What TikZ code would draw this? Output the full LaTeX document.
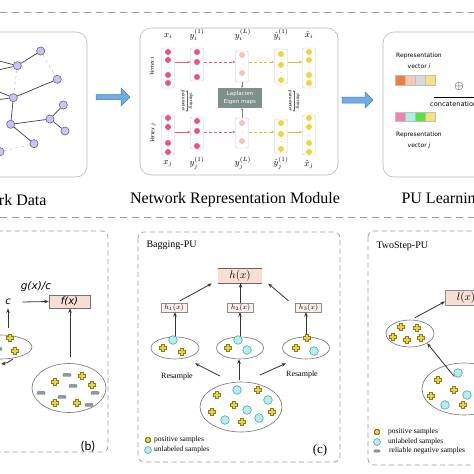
\documentclass[tikz,border=0pt]{standalone}
\usepackage{fontspec}
\setmainfont{Liberation Serif}
\setsansfont{DejaVu Sans}
\newfontfamily\calib{Carlito}
\usetikzlibrary{arrows.meta,shapes.geometric,calc}
\definecolor{netfill}{HTML}{C8C5EE}
\definecolor{netdraw}{HTML}{6B68A0}
\definecolor{dashgray}{HTML}{9A9A9A}
\definecolor{boxgray}{HTML}{B8B8B8}
\definecolor{pinkdot}{HTML}{E8538C}
\definecolor{peachdot}{HTML}{F6C6B4}
\definecolor{yellowdot}{HTML}{F4D23A}
\definecolor{lapgray}{HTML}{7E908C}
\definecolor{arrowblue}{HTML}{72ACE6}
\definecolor{arrowblueD}{HTML}{3F7CC0}
\definecolor{peachbox}{HTML}{F9DED3}
\definecolor{plusfill}{HTML}{EAD446}
\definecolor{plusedge}{HTML}{8C7C1E}
\definecolor{minusfill}{HTML}{8E99A8}
\definecolor{minusedge}{HTML}{6A7480}
\definecolor{cyanfill}{HTML}{B7EEEC}
\definecolor{cyanedge}{HTML}{4AA4AE}
\definecolor{ca}{HTML}{F07F3A}
\definecolor{cb}{HTML}{F7C9B5}
\definecolor{cc}{HTML}{D7D9DA}
\definecolor{cd}{HTML}{F5E17D}
\definecolor{ce}{HTML}{F37FB4}
\definecolor{cf}{HTML}{A6F2E3}
\definecolor{cg}{HTML}{55E43A}
\tikzset{
  panel/.style={draw=dashgray, dash pattern=on 5pt off 3.5pt, line width=0.7pt, rounded corners=6pt},
  sepline/.style={draw=dashgray, dash pattern=on 7pt off 5pt, line width=0.7pt},
  bigbox/.style={draw=boxgray, line width=0.6pt, rounded corners=11pt},
  nn/.style={circle, inner sep=0pt, minimum size=8pt, fill=netfill, draw=netdraw, line width=0.5pt},
  solidedge/.style={draw=black!75, line width=0.7pt},
  dashedge/.style={draw=black!25, dashed, line width=0.5pt},
  colbox/.style={draw=black!22, line width=0.4pt, rounded corners=2pt, minimum width=13pt, inner sep=0pt},
  arr/.style={-{Stealth[length=4.5pt,width=3.5pt]}, draw=black!80, line width=0.8pt},
  smallarr/.style={-{Stealth[length=2pt,width=2pt]}, draw=black!50, line width=0.4pt},
  pinkarr/.style={-{Stealth[length=3pt,width=2.5pt]}, draw=pinkdot, line width=0.6pt},
  yelarr/.style={-{Stealth[length=3pt,width=2.5pt]}, draw=yellowdot!90!black, line width=0.6pt},
  ell/.style={ellipse, draw=black!55, line width=0.6pt, inner sep=0pt},
  fbox/.style={fill=peachbox, draw=black!55, line width=0.6pt, inner sep=0pt},
  bigtitle/.style={font=\fontsize{16}{18}\selectfont},
  pplus/.pic={\draw[line width=3.3pt, plusedge] (-3.6,0)--(3.6,0) (0,-3.6)--(0,3.6);
              \draw[line width=1.9pt, plusfill] (-3,0)--(3,0) (0,-3)--(0,3);},
  pminus/.pic={\filldraw[fill=minusfill, draw=minusedge, line width=0.3pt, rounded corners=0.8pt] (-4,-1.4) rectangle (4,1.4);},
  pcirc/.pic={\draw[fill=cyanfill, draw=cyanedge, line width=0.6pt] (0,0) circle (4.3);},
}
\begin{document}
\begin{tikzpicture}[x=1pt,y=-1pt]
\useasboundingbox (0,0) rectangle (474,474);
\clip (0,0) rectangle (474,474);
\fill[white] (0,0) rectangle (474,474);

% separators
\draw[sepline] (0,12) -- (474,12);
\draw[sepline] (0,217) -- (474,217);

% ---------------- Network data
\draw[bigbox] (-30,32) rectangle (87,177);
\node[nn] (n1) at (40.7,51) {};
\node[nn] (n2) at (17.3,65.7) {};
\node[nn] (n3) at (57.3,79.3) {};
\node[nn] (n4) at (13.3,97.7) {};
\node[nn] (n5) at (63.3,105) {};
\node[nn] (n6) at (50,119) {};
\node[nn] (n7) at (65,131) {};
\node[nn] (n8) at (10.7,124.3) {};
\node[nn] (n9) at (34,143.7) {};
\node[nn] (n10) at (0,151.7) {};
\node[nn] (m1) at (-20,56) {};
\node[nn] (m2) at (-20,74) {};
\node[nn] (m3) at (-20,84) {};
\node[nn] (m4) at (-20,102) {};
\draw[solidedge] (n1) -- (n2);
\draw[solidedge] (m1) -- (n2);
\draw[solidedge] (m2) -- (n2);
\draw[solidedge] (m3) -- (n4);
\draw[solidedge] (m4) -- (n4);
\draw[dashedge] (n1) -- (n3);
\draw[dashedge] (n2) -- (n4);
\draw[solidedge] (n4) -- (n3);
\draw[solidedge] (n4) -- (n8);
\draw[solidedge] (n8) -- (n6);
\draw[solidedge] (n6) -- (n5);
\draw[solidedge] (n6) -- (n7);
\draw[solidedge] (n8) -- (n9);
\draw[dashedge] (n9) -- (n10);
\foreach \n in {n1,n2,n3,n4,n5,n6,n7,n8,n9,n10} \node[nn] at (\n) {};
\node[bigtitle, anchor=east] (tnet) at (50,200) {Network Data};

% blue arrows
\filldraw[fill=arrowblue, draw=arrowblueD, line width=0.5pt]
  (96,94.5) -- (121,94.5) -- (121,88) -- (130,97) -- (121,106) -- (121,99.5) -- (96,99.5) -- cycle;
\filldraw[fill=arrowblue, draw=arrowblueD, line width=0.5pt]
  (342,97) -- (365,97) -- (365,92) -- (373,100) -- (365,108) -- (365,103) -- (342,103) -- cycle;

% ---------------- Network Representation Module
\draw[bigbox] (140,28) rectangle (338,175);
\node[bigtitle] (tnrm) at (235,200) {Network Representation Module};

% top row columns
\node[colbox, minimum height=40pt] (cxi) at (168,68) {};
\node[colbox, minimum height=33pt] (cy1i) at (197,64.5) {};
\node[colbox, minimum height=31pt] (cyLi) at (242,66.5) {};
\node[colbox, minimum height=35pt] (cyhi) at (281,66.5) {};
\node[colbox, minimum height=40pt] (cxhi) at (309,68) {};
% bottom row columns
\node[colbox, minimum height=40pt] (cxj) at (168,135) {};
\node[colbox, minimum height=32pt] (cy1j) at (197,133) {};
\node[colbox, minimum height=30pt] (cyLj) at (242,133) {};
\node[colbox, minimum height=34pt] (cyhj) at (281,136) {};
\node[colbox, minimum height=40pt] (cxhj) at (309,135) {};
% dots
\foreach \y in {52,60,75,83} {\fill[pinkdot] (168,\y) circle (3); \fill[yellowdot] (309,\y) circle (3);}
\foreach \y in {52,62,77} \fill[pinkdot] (197,\y) circle (3);
\foreach \y in {55,73} \fill[peachdot] (242,\y) circle (3);
\foreach \y in {54,65,80} \fill[yellowdot] (281,\y) circle (3);
\foreach \y in {118,127,143,152} {\fill[pinkdot] (168,\y) circle (3); \fill[yellowdot] (309,\y) circle (3);}
\foreach \y in {121,131,146} \fill[pinkdot] (197,\y) circle (3);
\foreach \y in {123,141} \fill[peachdot] (242,\y) circle (3);
\foreach \y in {123,134,149} \fill[yellowdot] (281,\y) circle (3);
\foreach \x/\y in {168/67.5,309/67.5,197/69.5,242/64,281/72.5,168/135,309/135,197/138.5,242/132,281/141.5}
  \fill[black!35] (\x,\y) circle (0.5);

% labels
\begin{scope}[every node/.style={font=\fontsize{9}{10}\selectfont}]
\node (lxi) at (168,36) {$x_i$};
\node (ly1i) at (197,35) {$y_i^{(1)}$};
\node (lyLi) at (243,35) {$y_i^{(L)}$};
\node (lyhi) at (281,35) {$\hat{y}_i^{(1)}$};
\node (lxhi) at (309,35) {$\hat{x}_i$};
\node (lxj) at (168,164) {$x_j$};
\node (ly1j) at (197,163) {$y_j^{(1)}$};
\node (lyLj) at (243,163) {$y_j^{(L)}$};
\node (lyhj) at (281,163) {$\hat{y}_j^{(1)}$};
\node (lxhj) at (309,164) {$\hat{x}_j$};
\end{scope}
\node[rotate=90, font=\fontsize{6}{7}\selectfont\itshape] (vi) at (152,66) {Vertex $i$};
\node[rotate=90, font=\fontsize{6}{7}\selectfont\itshape] (vj) at (153,133) {Vertex $j$};

% arrows in rows
\draw[pinkarr] (cxi.east |- 0,62) -- (cy1i.west |- 0,62);
\draw[pinkarr, dash pattern=on 3pt off 2pt] (cy1i.east |- 0,62) -- (cyLi.west |- 0,62);
\draw[yelarr, dash pattern=on 3pt off 2pt] (cyLi.east |- 0,62) -- (cyhi.west |- 0,62);
\draw[yelarr] (cyhi.east |- 0,62) -- (cxhi.west |- 0,62);
\draw[pinkarr] (cxj.east |- 0,132) -- (cy1j.west |- 0,132);
\draw[pinkarr, dash pattern=on 3pt off 2pt] (cy1j.east |- 0,132) -- (cyLj.west |- 0,132);
\draw[yelarr, dash pattern=on 3pt off 2pt] (cyLj.east |- 0,132) -- (cyhj.west |- 0,132);
\draw[yelarr] (cyhj.east |- 0,132) -- (cxhj.west |- 0,132);

% Laplacian
\node[fill=lapgray, text=white, minimum width=44pt, minimum height=20pt, inner sep=0pt, align=center,
  font=\sffamily\fontsize{5.5}{7.5}\selectfont] (lap) at (240,98) {Laplacien\\Eigen maps};
\draw[smallarr] (cyLi.south) -- (cyLi.south |- lap.north);
\draw[smallarr] (cyLj.north) -- (cyLj.north |- lap.south);

% parameter sharing
\begin{scope}[every node/.style={rotate=-90, font=\fontsize{5}{6}\selectfont\itshape, inner sep=0.5pt}]
\node (psa1) at (183,101) {parameter};
\node (psb1) at (191,101) {sharing};
\node (psa2) at (290,101) {parameter};
\node (psb2) at (298,101) {sharing};
\end{scope}
\draw[{Stealth[length=2pt,width=1.8pt]}-{Stealth[length=2pt,width=1.8pt]}, black!60, line width=0.3pt] (187,90) -- (187,112);
\draw[{Stealth[length=2pt,width=1.8pt]}-{Stealth[length=2pt,width=1.8pt]}, black!60, line width=0.3pt] (294,90) -- (294,112);

% ---------------- PU learning
\draw[bigbox] (383,32) rectangle (520,177);
\node[bigtitle, anchor=west] (tpu) at (398,200) {PU Learning};
\begin{scope}[every node/.style={font=\sffamily\fontsize{6}{7}\selectfont, inner sep=0pt}]
\node (rvi1) at (419,56) {Representation};
\node (rvi2) at (419,66) {vector \textit{i}};
\node (rvj1) at (419,135) {Representation};
\node (rvj2) at (419,146) {vector \textit{j}};
\node[anchor=west, font=\sffamily\fontsize{6.6}{7}\selectfont] (conc) at (430,104) {concatenation};
\end{scope}
\foreach \c [count=\k from 0] in {ca,cb,cc,cd}
  \filldraw[fill=\c, draw=black!25, line width=0.3pt] (395+10*\k,75) rectangle (405+10*\k,85);
\foreach \c [count=\k from 0] in {ce,cf,cg,cd}
  \filldraw[fill=\c, draw=black!25, line width=0.3pt] (395+10*\k,112) rectangle (405+10*\k,121);
\node[font=\fontsize{12}{12}\selectfont] (oplus) at (459,86) {$\oplus$};
\coordinate (concS) at (434,97);
\coordinate (concE) at (490,97);
\draw[black, line width=0.7pt, -{Stealth[length=4pt,width=3pt]}] (concS) -- (concE);

% ---------------- panels
\draw[panel] (-30,231) rectangle (108,452);
\draw[panel] (138,232) rectangle (340,462);
\draw[panel] (368,231) rectangle (520,465);

% ---------------- panel (b)
\node[font=\sffamily\itshape\fontsize{10.5}{12}\selectfont] (gxc) at (36,287) {g(x)/c};
\node[font=\sffamily\itshape\fontsize{10}{12}\selectfont] (cc1) at (8,302) {c};
\node[fbox, minimum width=41pt, minimum height=13pt, font=\sffamily\itshape\fontsize{10}{12}\selectfont] (fx) at (69.5,301.5) {f(x)};
\coordinate (cstart) at ($(cc1.east)+(8,0)$);
\draw[arr] (cstart) -- (fx.west);
\node[ell, minimum width=64pt, minimum height=24pt] (eb1) at (0,347) {};
\coordinate (cb1) at (8,328);
\draw[arr] (cb1) -- (cc1.south);
\pic at (10,338) {pplus};
\pic at (15,351) {pplus};
\pic at (-2,349) {pminus};
\coordinate (sa1) at (13,359);
\coordinate (sa2) at (1,364);
\draw[arr] (sa1) to[bend left=15] (sa2);
\node[ell, minimum width=74pt, minimum height=49pt] (eb2) at (69,388) {};
\coordinate (eb2t) at ($(eb2.north)+(1,-6)$);
\draw[arr] (eb2t) -- (fx.south -| eb2t);
\pic at (67,375) {pminus};
\pic at (82,376) {pplus};
\pic at (55,382) {pplus};
\pic at (73,386) {pminus};
\pic at (92,385) {pplus};
\pic at (41,393) {pminus};
\pic at (62,397) {pminus};
\pic at (95,393) {pminus};
\pic at (55,403) {pplus};
\pic at (77,403) {pplus};
\pic at (89,405) {pminus};
\node[font=\calib\fontsize{13}{14}\selectfont] (lb) at (88,447) {(b)};

% ---------------- panel (c)
\node[anchor=west, font=\fontsize{10}{12}\selectfont] (tbag) at (143,245) {Bagging-PU};
\node[fill=peachbox, minimum width=44pt, minimum height=15pt, inner sep=0pt, font=\fontsize{11}{12}\selectfont] (hx) at (240,275.5) {$h(x)$};
\draw[black!60, line width=0.6pt] (hx.north west) -- (hx.north east) (hx.south west) -- (hx.south east);
\begin{scope}[every node/.style={fill=peachbox!50, draw=black!45, line width=0.4pt, minimum width=26pt, minimum height=9pt, inner sep=0pt, font=\fontsize{7}{8}\selectfont}]
\node (h1) at (174,307.5) {$h_1(x)$};
\node (h2) at (240.5,307.5) {$h_2(x)$};
\node (h3) at (308.5,307.5) {$h_3(x)$};
\end{scope}
\coordinate (h1t) at ($(h1.north)+(6,-2)$);
\coordinate (h3t) at ($(h3.north)+(-20,-2)$);
\draw[arr] (h1t) -- ($(hx.west)+(-6,8)$);
\draw[arr] (h2.north) -- (hx.south -| h2.north);
\draw[arr] (h3t) -- ($(hx.east)+(6,8)$);
\node[ell, minimum width=48pt, minimum height=22pt] (e1) at (175,348) {};
\node[ell, minimum width=47pt, minimum height=22pt] (e2) at (240,348) {};
\node[ell, minimum width=47pt, minimum height=22pt] (e3) at (306,348) {};
\draw[arr] (e1.north) -- (e1.north |- h1.south);
\draw[arr] (e2.north) -- (e2.north |- h2.south);
\draw[arr] (e3.north) -- (e3.north |- h3.south);
\pic at (163,348) {pplus};
\pic at (173,340) {pcirc};
\pic at (182,352) {pplus};
\pic at (228,348) {pplus};
\pic at (238,340) {pcirc};
\pic at (247,350) {pcirc};
\pic at (307,338) {pplus};
\pic at (296,348) {pplus};
\pic at (314,351) {pcirc};
\node[ell, minimum width=82pt, minimum height=50pt] (eb) at (241,407) {};
\coordinate (ebl) at (220,376);
\coordinate (ebr) at (260,375);
\coordinate (ebm) at ($(eb.north)+(-2,-2)$);
\draw[arr] (ebl) -- ($(e1.south)+(20,4)$);
\draw[arr] (ebm) -- (e2.south -| ebm);
\draw[arr] (ebr) -- ($(e3.south)+(-20,4)$);
\pic at (237,390) {pcirc};
\pic at (217,395) {pplus};
\pic at (258,390) {pplus};
\pic at (268,400) {pcirc};
\pic at (234,405) {pplus};
\pic at (212,412) {pplus};
\pic at (247,410) {pcirc};
\pic at (272,412) {pplus};
\pic at (225,420) {pcirc};
\pic at (242,422) {pplus};
\pic at (259,418) {pcirc};
\node[font=\fontsize{8}{9}\selectfont] (rs1) at (177,377) {Resample};
\node[font=\fontsize{8}{9}\selectfont] (rs2) at (302,375) {Resample};
\pic[scale=0.8] at (148,440) {pplus};
\pic[scale=0.8] at (148,450) {pcirc};
\node[anchor=west, font=\fontsize{7.5}{8}\selectfont, inner sep=0pt] (lg1) at (154,440) {positive samples};
\node[anchor=west, font=\fontsize{7.5}{8}\selectfont, inner sep=0pt] (lg2) at (154,450) {unlabeled samples};
\node[font=\fontsize{13}{14}\selectfont] (lc) at (320,450) {(c)};

% ---------------- panel (d)
\node[anchor=west, font=\fontsize{10}{12}\selectfont] (ttwo) at (373,246) {TwoStep-PU};
\node[fill=peachbox, draw=black!45, line width=0.5pt, minimum width=60pt, minimum height=15pt, inner sep=0pt, anchor=west] (lx) at (445,297.5) {};
\node[font=\fontsize{11}{12}\selectfont] (lxt) at (466,297.5) {$l(x)$};
\node[ell, minimum width=48pt, minimum height=27pt] (ed1) at (410,333.5) {};
\pic at (401,327) {pplus};
\pic at (417,328) {pplus};
\pic at (393,337) {pplus};
\pic at (407,340) {pplus};
\pic at (421,338) {pplus};
\coordinate (ed1t) at ($(ed1.north)+(5,-2)$);
\draw[arr] (ed1t) -- ($(lx.west)+(0,4)$);
\node[ell, minimum width=84pt, minimum height=52pt] (ed2) at (464,389) {};
\coordinate (ed2t) at ($(ed2.north west)+(20,6)$);
\draw[arr] (ed2t) -- (ed1.south east);
\pic at (458,373) {pcirc};
\pic at (438,380) {pplus};
\pic at (454,390) {pplus};
\pic at (467,395) {pcirc};
\pic at (431,396) {pplus};
\pic at (445,405) {pcirc};
\pic at (463,405) {pplus};
\pic[scale=0.8] at (377,432) {pplus};
\pic[scale=0.8] at (377,442) {pcirc};
\pic[scale=0.8] at (377,451) {pminus};
\node[anchor=west, font=\fontsize{7.5}{8}\selectfont, inner sep=0pt] (ld1) at (388,432) {positive samples};
\node[anchor=west, font=\fontsize{7.5}{8}\selectfont, inner sep=0pt] (ld2) at (388,442) {unlabeled samples};
\node[anchor=west, font=\fontsize{7.5}{8}\selectfont, inner sep=0pt] (ld3) at (389,451) {reliable negative samples};
\end{tikzpicture}
\end{document}
